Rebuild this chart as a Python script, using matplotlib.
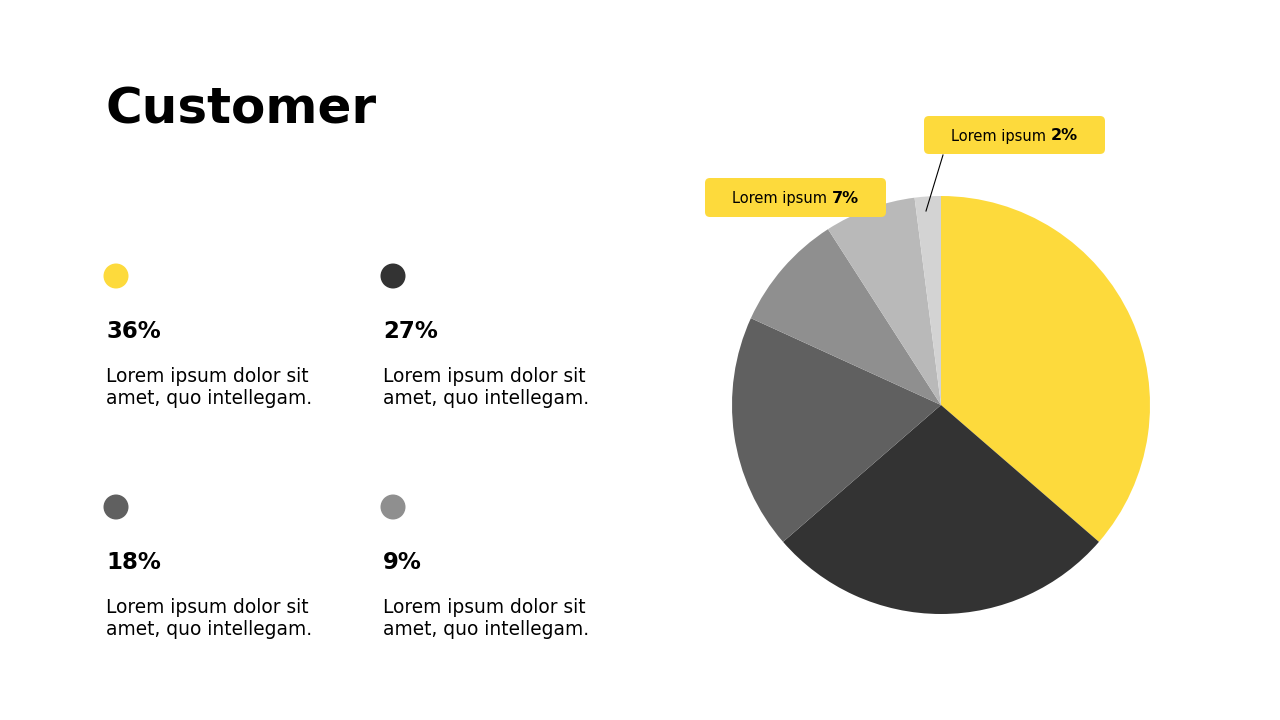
import matplotlib
matplotlib.use("Agg")
import matplotlib.pyplot as plt
from matplotlib.patches import Circle, FancyBboxPatch

# ---- data ----
slice_values = [36, 27, 18, 9, 7, 2]
slice_colors = ["#FDDA3C", "#333333", "#606060", "#8F8F8F", "#B9B9B9", "#D3D3D3"]
card_values = ["36%", "27%", "18%", "9%"]
card_colors = ["#FDDA3C", "#333333", "#606060", "#8F8F8F"]
card_text = "Lorem ipsum dolor sit\namet, quo intellegam."
callout_labels = ["Lorem ipsum ", "Lorem ipsum "]
callout_values = ["2%", "7%"]
title = "Customer"

FONT = "DejaVu Sans"
W, H = 1280, 720
fig = plt.figure(figsize=(12.8, 7.2), dpi=100)
fig.patch.set_facecolor("white")

# pie axes
cx, cy, r = 941, 405, 209
pa = fig.add_axes([(cx - r) / W, (H - cy - r) / H, 2 * r / W, 2 * r / H])
pa.pie(slice_values, colors=slice_colors, startangle=90, counterclock=False,
       radius=1, wedgeprops=dict(linewidth=0))
pa.set_xlim(-1, 1)
pa.set_ylim(-1, 1)
pa.set_aspect("equal")
pa.axis("off")

# overlay axes in pixel coordinates (on top)
ov = fig.add_axes([0, 0, 1, 1])
ov.set_xlim(0, W)
ov.set_ylim(H, 0)
ov.axis("off")
ov.set_zorder(5)
ov.patch.set_visible(False)

# title
ov.text(105, 123, title, fontsize=36, fontweight="bold", family=FONT,
        color="black", va="baseline", ha="left")

# cards
pos = [(107, 276), (384, 276), (107, 507), (384, 507)]
lines = card_text.split("\n")
for (x, y), v, c in zip(pos, card_values, card_colors):
    ov.add_patch(Circle((x + 9, y), 12.5, color=c, lw=0))
    ov.text(x - 1, y + 62, v, fontsize=16.5, fontweight="bold", family=FONT,
            color="black", va="baseline", ha="left")
    ov.text(x - 1, y + 106, lines[0], fontsize=13.4, family=FONT,
            color="black", va="baseline", ha="left")
    ov.text(x - 1, y + 128, lines[1], fontsize=13.4, family=FONT,
            color="black", va="baseline", ha="left")

# callouts
ov.plot([943, 926], [155, 211], color="black", lw=0.8)
boxes = [(924, 116, 181, 38), (705, 178, 181, 39)]
fig.canvas.draw()
renderer = fig.canvas.get_renderer()
for (bx, by, bw, bh), lab, val in zip(boxes, callout_labels, callout_values):
    ov.add_patch(FancyBboxPatch((bx + 4, by + 4), bw - 8, bh - 8,
                                boxstyle="round,pad=4,rounding_size=5",
                                fc="#FDDA3C", ec="none"))
    t1 = ov.text(0, 0, lab, fontsize=10.5, family=FONT, color="black",
                 va="center", ha="left")
    t2 = ov.text(0, 0, val, fontsize=11.5, fontweight="bold", family=FONT,
                 color="black", va="center", ha="left")
    w1 = t1.get_window_extent(renderer).width
    w2 = t2.get_window_extent(renderer).width
    x0 = bx + bw / 2 - (w1 + w2) / 2
    ymid = by + bh / 2 + 1
    t1.set_position((x0, ymid))
    t2.set_position((x0 + w1, ymid))

fig.savefig("out.png", dpi=100, facecolor="white")
